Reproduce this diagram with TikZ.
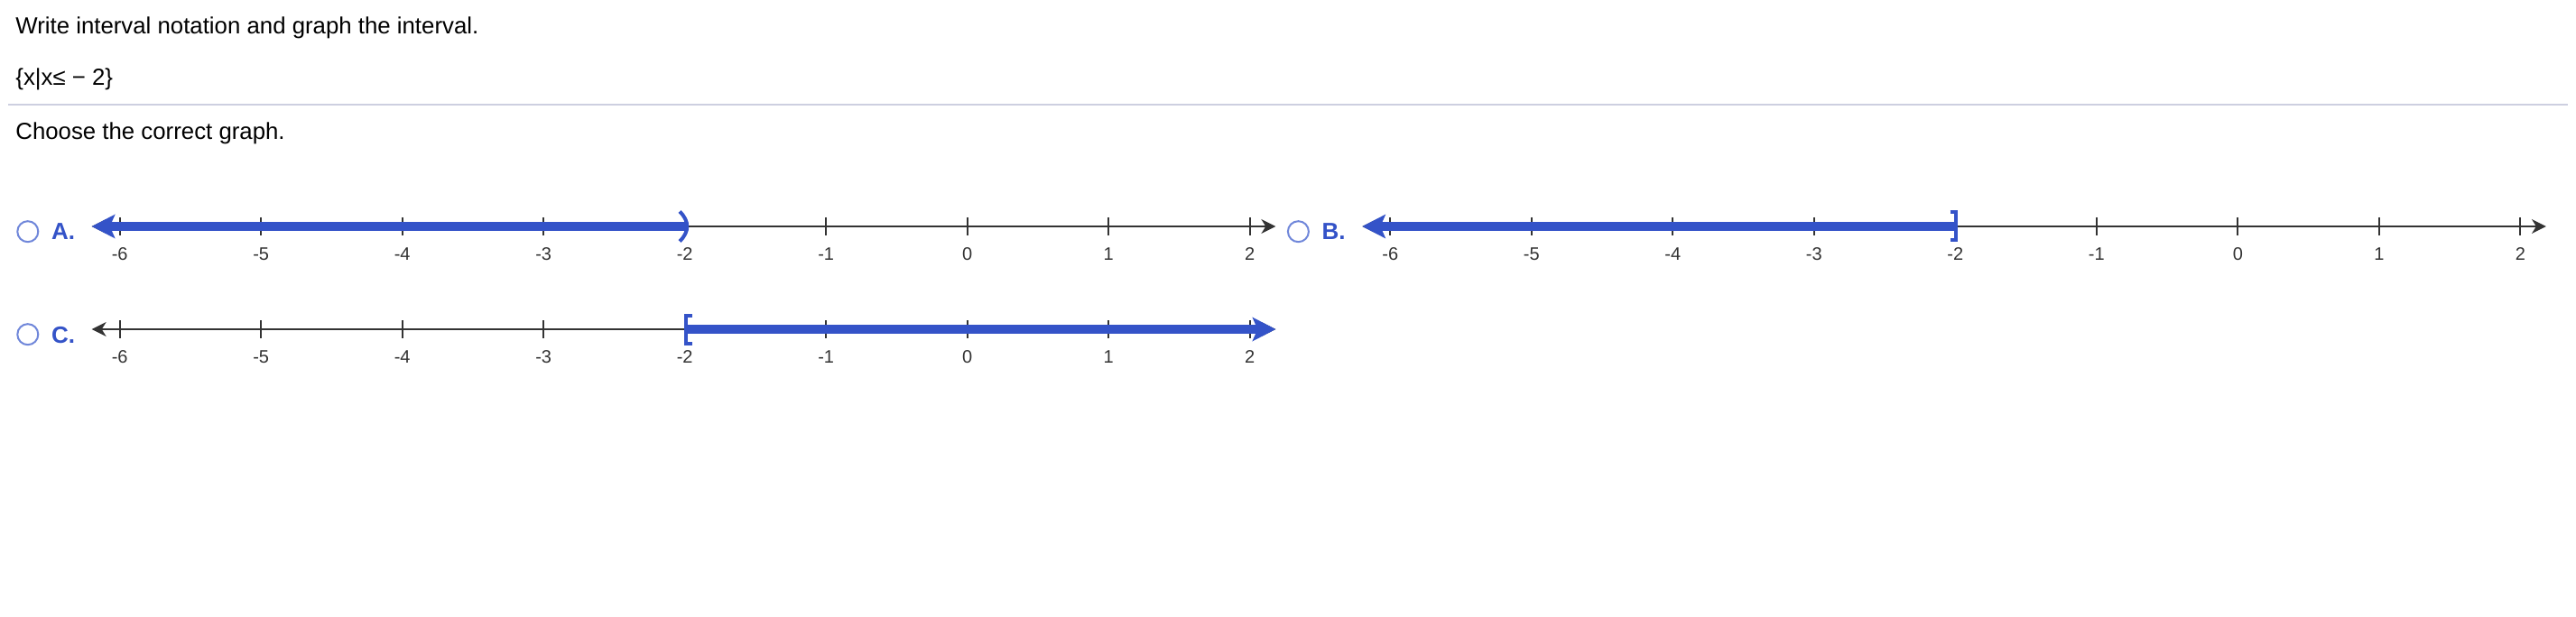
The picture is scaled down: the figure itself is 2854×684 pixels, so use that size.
\documentclass[tikz,border=0pt]{standalone}
\usepackage{fontspec}
\setmainfont{Liberation Sans}
\usetikzlibrary{arrows.meta}
\definecolor{mblue}{RGB}{52,83,200}
\definecolor{radioblue}{RGB}{112,135,218}
\definecolor{axisgray}{RGB}{51,51,51}
\definecolor{seplight}{RGB}{205,207,224}
\begin{document}
\begin{tikzpicture}[x=0.5pt,y=-0.5pt,
  qtext/.style={font=\fontsize{12.9pt}{15pt}\selectfont, text=black, inner sep=0pt, anchor=base west},
  optlbl/.style={font=\fontsize{13pt}{15pt}\selectfont\bfseries, text=mblue, inner sep=0pt, anchor=base west},
  radio/.style={circle, draw=radioblue, line width=1pt, minimum size=11.5pt, inner sep=0pt},
  sepline/.style={draw=seplight, line width=1pt},
  axisline/.style={draw=axisgray, line width=1pt},
  tickmark/.style={draw=axisgray, line width=1pt},
  ticklbl/.style={font=\fontsize{10pt}{12pt}\selectfont, text=axisgray, inner sep=0pt, anchor=base},
  blueray/.style={draw=mblue, line width=5.15pt},
  endmark/.style={draw=mblue, line width=2pt, miter limit=10},
  axtip/.tip={Stealth[length=8pt,width=8pt,inset=2.5pt,line width=0pt]},
  bltip/.tip={Stealth[length=13pt,width=13.5pt,inset=3pt,line width=0pt]}
]
\fill[white] (0,0) rectangle (2854,684);
\useasboundingbox (0,0) rectangle (2854,684);

% question text
\node[qtext] (q1) at (17,37.5) {Write interval notation and graph the interval.};
\node[qtext] (q2) at (17,94.3) {\{x|x≤ − 2\}};
\coordinate (sepL) at (9,116);
\coordinate (sepR) at (2845,116);
\draw[sepline] (sepL) -- (sepR);
\node[qtext] (q3) at (17,154.5) {Choose the correct graph.};

% ---------- Option A ----------
\node[radio] (rA) at (30.8,256.7) {};
\node[optlbl] (lA) at (56.7,266) {A.};
\coordinate (aL) at (101.7,251);
\coordinate (aR) at (1413.3,251);
\draw[axisline, axtip-axtip] (aL) -- (aR);
\foreach \i in {0,...,8} {
  \pgfmathsetmacro\xx{132.7+156.5*\i}
  \pgfmathtruncatemacro\lb{\i-6}
  \draw[tickmark] (\xx,241) -- (\xx,261);
  \node[ticklbl] (aT\i) at (\xx,288.3) {\lb};
}
\coordinate (aP) at (758.5,251);
\draw[blueray, -bltip] (aP) -- (aL);
\coordinate (aP1) at (753,234.5);
\coordinate (aP2) at (753,267.5);
\draw[endmark] (aP1) .. controls (764,245) and (764,257) .. (aP2);

% ---------- Option B ----------
\begin{scope}[shift={(1407.6,0)}]
\node[radio] (rB) at (30.8,256.7) {};
\node[optlbl] (lB) at (56.7,266) {B.};
\coordinate (bL) at (101.7,251);
\coordinate (bR) at (1413.3,251);
\draw[axisline, axtip-axtip] (bL) -- (bR);
\foreach \i in {0,...,8} {
  \pgfmathsetmacro\xx{132.7+156.5*\i}
  \pgfmathtruncatemacro\lb{\i-6}
  \draw[tickmark] (\xx,241) -- (\xx,261);
  \node[ticklbl] (bT\i) at (\xx,288.3) {\lb};
}
\coordinate (bP) at (759.8,251);
\draw[blueray, -bltip] (bP) -- (bL);
\coordinate (bB1) at (753,235.5);
\coordinate (bB2) at (759.8,235.5);
\coordinate (bB3) at (759.8,266.5);
\coordinate (bB4) at (753,266.5);
\draw[endmark] (bB1) -- (bB2) -- (bB3) -- (bB4);
\end{scope}

% ---------- Option C ----------
\node[radio] (rC) at (30.8,370.7) {};
\node[optlbl] (lC) at (56.7,380) {C.};
\coordinate (cL) at (101.7,365);
\coordinate (cR) at (1413.3,365);
\draw[axisline, axtip-axtip] (cL) -- (cR);
\foreach \i in {0,...,8} {
  \pgfmathsetmacro\xx{132.7+156.5*\i}
  \pgfmathtruncatemacro\lb{\i-6}
  \draw[tickmark] (\xx,355) -- (\xx,375);
  \node[ticklbl] (cT\i) at (\xx,402) {\lb};
}
\coordinate (cP) at (760,365);
\draw[blueray, -bltip] (cP) -- (cR);
\coordinate (cB1) at (766.8,349.5);
\coordinate (cB2) at (760,349.5);
\coordinate (cB3) at (760,380.5);
\coordinate (cB4) at (766.8,380.5);
\draw[endmark] (cB1) -- (cB2) -- (cB3) -- (cB4);
\end{tikzpicture}
\end{document}
